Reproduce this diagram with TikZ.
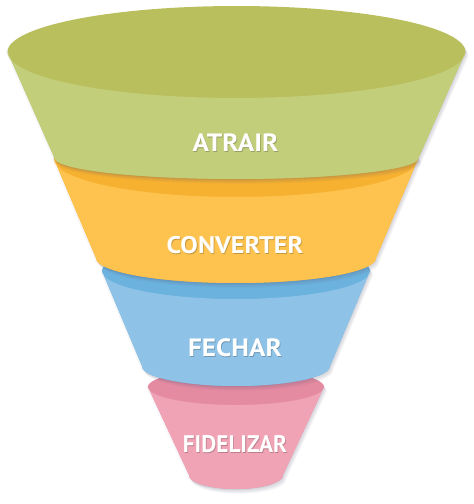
\documentclass[tikz,border=0pt]{standalone}
\usepackage{fontspec}
\setmainfont{PT Sans}
\definecolor{gtop}{HTML}{B9BF5D}
\definecolor{gside}{HTML}{C3CE7B}
\definecolor{oband}{HTML}{F7B130}
\definecolor{oside}{HTML}{FEC34E}
\definecolor{bband}{HTML}{6BB2DE}
\definecolor{bside}{HTML}{8EC3E7}
\definecolor{pband}{HTML}{E48AA1}
\definecolor{pside}{HTML}{F0A3B4}
\definecolor{shcol}{HTML}{5A5A78}
% silhouette: cx, yt, rxt, ryt, yb, rxb, ryb
\newcommand{\fsil}[7]{(#1-#3,#2) -- (#1-#6,#5) -- plot[domain=180:0,samples=50] ({#1+#6*cos(\x)},{#5+#7*sin(\x)}) -- (#1+#3,#2) -- plot[domain=0:-180,samples=70] ({#1+#3*cos(\x)},{#2+#4*sin(\x)}) -- cycle}
% side face: cx, yt, rxt, ryt, yb, rxb, ryb
\newcommand{\fside}[7]{(#1-#3,#2) -- (#1-#6,#5) -- plot[domain=180:0,samples=50] ({#1+#6*cos(\x)},{#5+#7*sin(\x)}) -- (#1+#3,#2) -- plot[domain=0:180,samples=70] ({#1+#3*cos(\x)},{#2+#4*sin(\x)}) -- cycle}
\newcommand{\fseg}[9]{%
  \foreach \s in {1,...,6}{\fill[shcol, opacity=0.045, shift={(\s*0.5,\s*0.8)}] \fsil{#1}{#2}{#3}{#4}{#5}{#6}{#7};}
  \fill[shcol, opacity=0.05, shift={(-1.5,1)}] \fsil{#1}{#2}{#3}{#4}{#5}{#6}{#7};
  \fill[#8] \fsil{#1}{#2}{#3}{#4}{#5}{#6}{#7};
  \fill[#9] \fside{#1}{#2}{#3}{#4}{#5}{#6}{#7};
}
\tikzset{lbl/.style={text=white, inner sep=0pt, transform shape},
  lblsh/.style={text=black, opacity=0.22, inner sep=0pt, transform shape},
  big/.style={font=\bfseries\fontsize{25}{30}\selectfont},
  small/.style={font=\bfseries\fontsize{24}{28}\selectfont}}
\begin{document}
\begin{tikzpicture}[x=1pt,y=-1pt]
\useasboundingbox (0,0) rectangle (474,504);
\fill[white] (0,0) rectangle (474,504);
% pink
\fseg{236}{387}{88}{18}{475}{47}{14}{pband}{pside}
% blue
\fseg{236}{271}{134}{28}{366}{94}{20}{bband}{bside}
% orange
\fseg{236}{159}{182}{38}{258}{140}{25}{oband}{oside}
% green
\fseg{236.5}{52}{229}{46}{158}{182}{21}{gtop}{gside}
% labels
\node[lblsh, big, xscale=1.09] (s1) at (236.3,143.3) {ATRAIR};
\node[lbl, big, xscale=1.09] (t1) at (235.5,142.5) {ATRAIR};
\node[lblsh, small, xscale=1.09] (s2) at (235.8,245.8) {CONVERTER};
\node[lbl, small, xscale=1.09] (t2) at (235,245) {CONVERTER};
\node[lblsh, big, xscale=1.09] (s3) at (235.8,348.3) {FECHAR};
\node[lbl, big, xscale=1.09] (t3) at (235,347.5) {FECHAR};
\node[lblsh, small, xscale=0.97] (s4) at (235.8,445.3) {FIDELIZAR};
\node[lbl, small, xscale=0.97] (t4) at (235,444.5) {FIDELIZAR};
\end{tikzpicture}
\end{document}
